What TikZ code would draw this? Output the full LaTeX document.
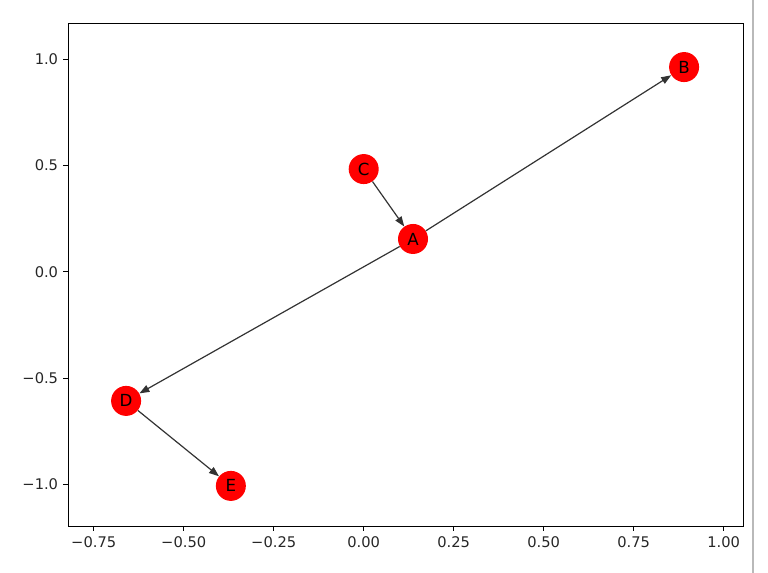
\documentclass[tikz,border=0pt]{standalone}
\usepackage{fontspec}
\setmainfont{DejaVu Sans}
\usetikzlibrary{arrows.meta}

\begin{document}
\begin{tikzpicture}[x=270pt, y=159.375pt,
  vertex/.style={circle, fill=red, inner sep=0pt, minimum size=22.5pt, font=\fontsize{12.5}{12.5}\selectfont},
  edge/.style={-{Triangle[length=7.5pt,width=5.5pt]}, line width=0.9pt, black!80},
  ticklabel/.style={font=\fontsize{11}{11}\selectfont, text=black!85, inner sep=0pt}]
\useasboundingbox (-1.0103,-1.4179) rectangle (1.1231,1.2786);
% screenshot border on the right
\draw[gray!55, line width=1.5pt] (1.0814,-1.4179) -- (1.0814,1.2786);
% axes
\draw[line width=0.8pt] (-0.821,-1.198) rectangle (1.054,1.166);
\foreach \v/\t in {-0.75/−0.75, -0.5/−0.50, -0.25/−0.25, 0/0.00, 0.25/0.25, 0.5/0.50, 0.75/0.75, 1/1.00}
  \draw[line width=0.6pt] (\v,-1.198) -- ++(0,-3.75pt)
    node[ticklabel, anchor=north, yshift=-3.5pt] {\t};
\foreach \v/\t in {-1/−1.0, -0.5/−0.5, 0/0.0, 0.5/0.5, 1/1.0}
  \draw[line width=0.6pt] (-0.821,\v) -- ++(-3.75pt,0)
    node[ticklabel, anchor=east, xshift=-3.5pt] {\t};

% graph
\node [vertex] (A) at (0.137,0.154) {A};
\node [vertex] (B) at (0.890,0.963) {B};
\node [vertex] (C) at (0,0.483) {C};
\node [vertex] (D) at (-0.660,-0.608) {D};
\node [vertex] (E) at (-0.369,-1.008) {E};

\draw[edge] (A) -- (B);
\draw[edge] (C) -- (A);
\draw[edge] (A) -- (D);
\draw[edge] (D) -- (E);
\end{tikzpicture}
\end{document}
